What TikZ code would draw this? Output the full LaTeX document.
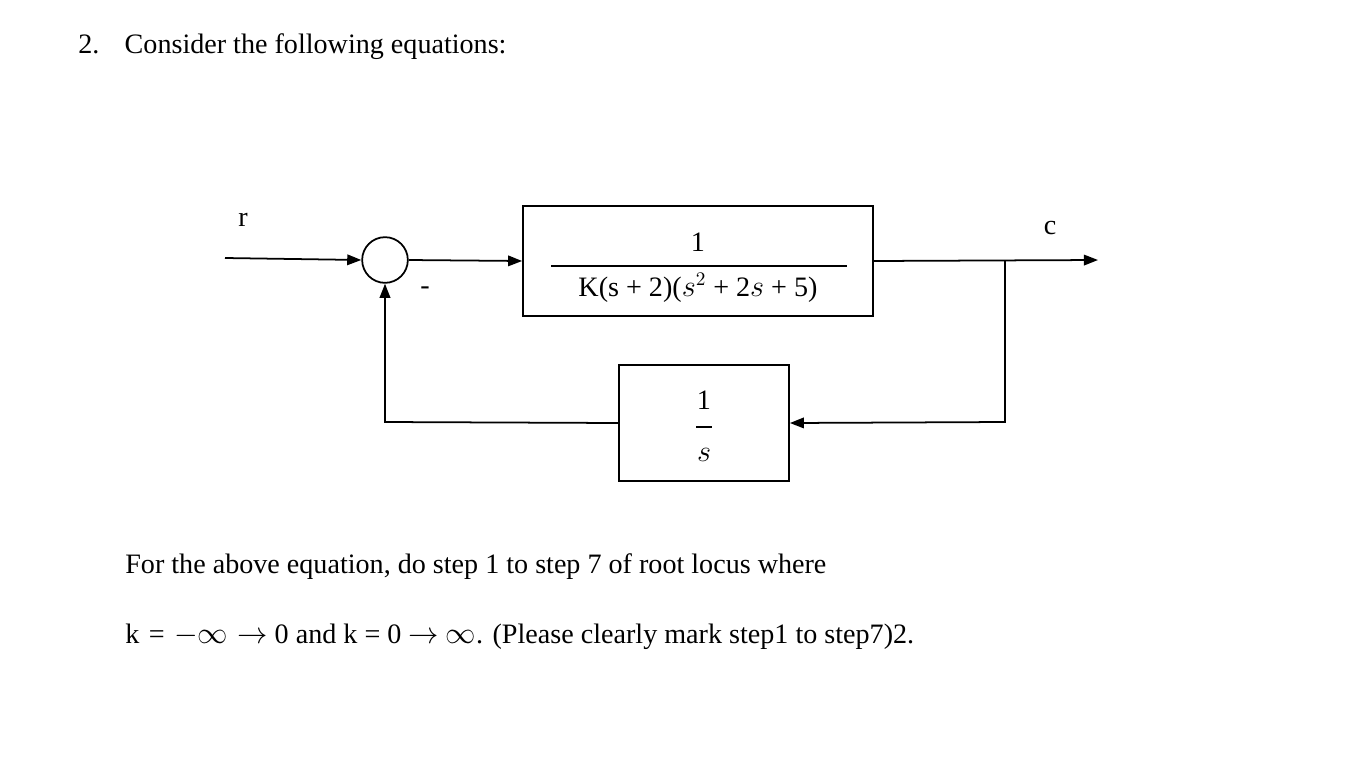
\documentclass[tikz,border=0pt]{standalone}
\usepackage{fontspec}
\setmainfont{Liberation Serif}
\usetikzlibrary{arrows.meta}
\begin{document}
\begin{tikzpicture}[x=0.02cm,y=-0.02cm,
  txt/.style={font=\fontsize{16}{18}\selectfont,inner sep=0},
  blk/.style={draw,line width=1pt},
  con/.style={line width=1pt,-{Triangle[length=8pt,width=6pt]}},
  ln/.style={line width=1pt}]
\useasboundingbox (0,0) rectangle (1353,768);
\node[txt,anchor=west] (title) at (78,47) {2.\hspace{0.9em}Consider the following equations:};
\node[txt] (r) at (243,220) {r};
\node[txt] (c) at (1050,228) {c};
\coordinate (in) at (225,258);
\node[draw,circle,line width=1pt,minimum size=26pt,inner sep=0] (sum) at (385,260) {};
\node[blk,minimum width=350*0.02cm,minimum height=110*0.02cm] (g) at (698,261) {};
\node[txt] (gn) at (698,242) {1};
\draw[line width=0.8pt] (551,266) -- (847,266);
\node[txt] (gd) at (698,288) {K(s + 2)($s^2$ + 2$s$ + 5)};
\node[blk,minimum width=170*0.02cm,minimum height=116*0.02cm] (h) at (704,423) {};
\node[txt] (hn) at (704,400) {1};
\draw[line width=0.8pt] (696,427) -- (712,427);
\node[txt] (hd) at (704,455) {$s$};
\node[txt] (minus) at (425,291) {-};
\coordinate (out) at (1098,260);
\coordinate (br) at (1005,260);
\draw[con] (in) -- (sum.west);
\draw[con] (sum.east) -- (g.west);
\draw[con] (g.east) -- (out);
\draw[con] (br) -- (1005,422) -- (h.east);
\draw[con] (h.west) -- (385,422) -- (sum.south);
\node[txt,anchor=west] (t1) at (125,567) {For the above equation, do step 1 to step 7 of root locus where};
\node[txt,anchor=west] (t2) at (125,637) {k\,\,=\,\,$-\infty$\,\,$\rightarrow$ 0 and k = 0 $\rightarrow$ $\infty$. (Please clearly mark step1 to step7)2.};
\end{tikzpicture}
\end{document}
